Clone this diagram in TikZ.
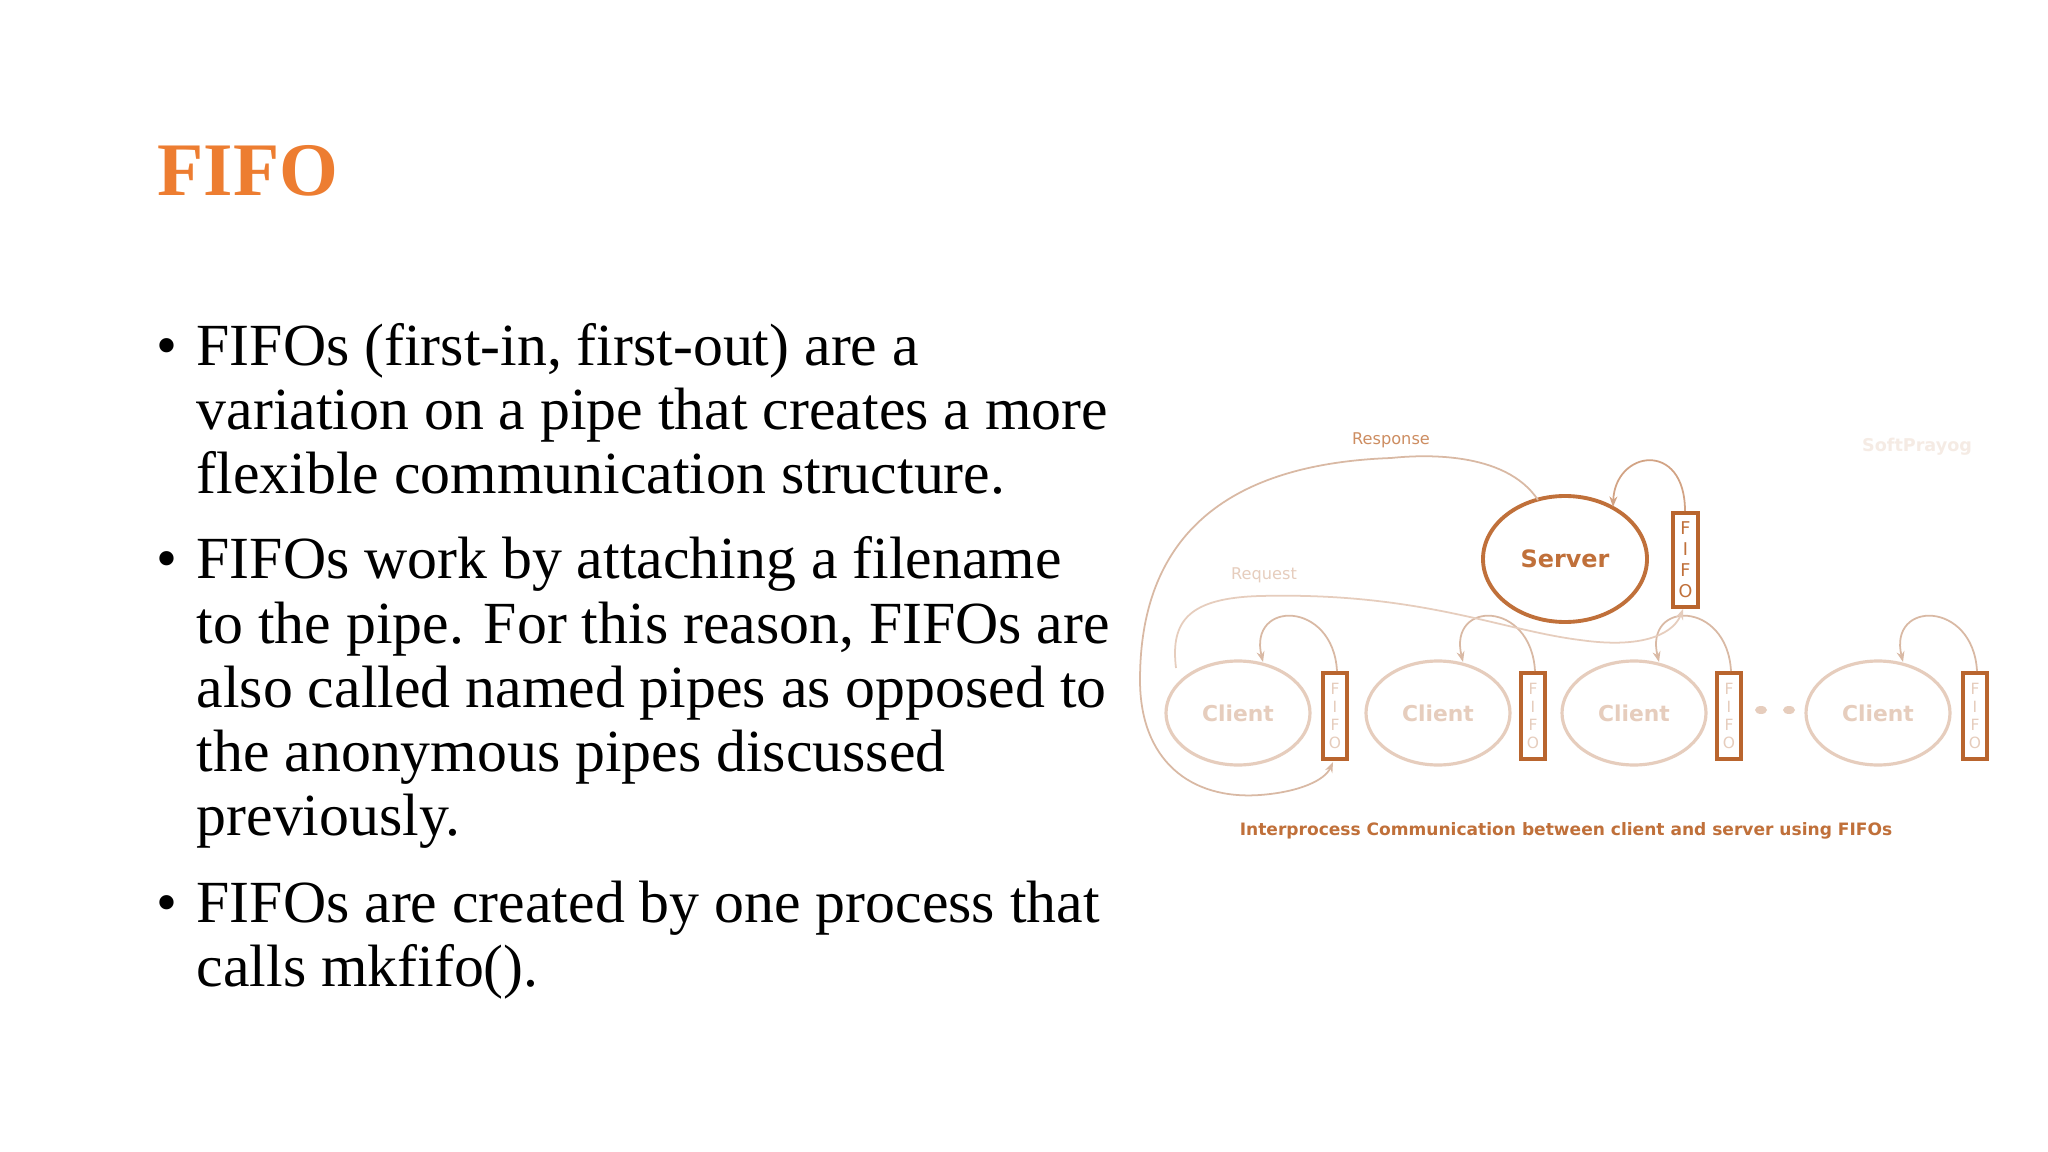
\documentclass[tikz,border=0pt]{standalone}
\usepackage{fontspec}
\setmainfont{Liberation Serif}
\newfontfamily\djv{DejaVu Sans}
\usetikzlibrary{arrows.meta}
\definecolor{ttl}{HTML}{ED7D31}
\definecolor{srv}{HTML}{C0703A}
\definecolor{cli}{HTML}{E6CDBD}
\definecolor{fbox}{HTML}{B9652E}
\definecolor{lin}{HTML}{D9B9A4}
\begin{document}
\begin{tikzpicture}[x=0.01cm,y=-0.01cm,
  ln/.style={anchor=base west,inner sep=0,font=\fontsize{17}{20}\selectfont},
  bul/.style={anchor=base west,inner sep=0,font=\fontsize{17}{20}\selectfont},
  fl/.style={font=\djv\fontsize{4.4}{5.2}\selectfont,align=center,inner sep=0},
  arr/.style={-{Stealth[length=3pt]},line width=0.5pt}]
\useasboundingbox (0,0) rectangle (2048,1152);
\fill[white] (0,0) rectangle (2048,1152);
\node[anchor=base west,inner sep=0,text=ttl,font=\bfseries\fontsize{21.5}{24}\selectfont] (title) at (157,196) {FIFO};
\node[bul] (b1) at (156,366) {•};
\node[bul] (b2) at (156,579) {•};
\node[bul] (b3) at (156,922) {•};
\node[ln] (l1) at (196,366) {FIFOs (first-in, first-out) are a};
\node[ln] (l2) at (196,430) {variation on a pipe that creates a more};
\node[ln] (l3) at (196,494) {flexible communication structure.};
\node[ln] (l4) at (196,579) {FIFOs work by attaching a filename};
\node[ln] (l5) at (196,643) {to the pipe. For this reason, FIFOs are};
\node[ln] (l6) at (196,707) {also called named pipes as opposed to};
\node[ln] (l7) at (196,771) {the anonymous pipes discussed};
\node[ln] (l8) at (196,835) {previously.};
\node[ln] (l9) at (196,922) {FIFOs are created by one process that};
\node[ln] (l10) at (196,986) {calls mkfifo().};
% diagram
\draw[srv,line width=1.1pt] (1565,559) ellipse [x radius=82,y radius=63];
\node[text=srv,font=\djv\bfseries\fontsize{6.8}{8}\selectfont] (server) at (1565,559) {Server};
\draw[fbox,line width=1.1pt] (1673,513) rectangle (1698,607);
\node[fl,text=srv,font=\djv\fontsize{5}{6}\selectfont] (sf) at (1685.5,560) {F\\I\\F\\O};
\coordinate (sfb) at (1683,609);
\foreach \i/\cx/\fx in {1/1238/1323,2/1438/1521,3/1634/1717,4/1878/1963}{
  \draw[cli,line width=0.9pt] (\cx,713) ellipse [x radius=72,y radius=52];
  \node[text=cli,font=\djv\bfseries\fontsize{6.2}{7}\selectfont] (c\i) at (\cx,713) {Client};
  \draw[fbox,line width=1.1pt] (\fx,673) rectangle (\fx+24,759);
  \node[fl,text=cli] (f\i) at (\fx+12,716) {F\\I\\F\\O};
  \draw[lin,arr] (\fx+14,671) .. controls (\fx+10,600) and (\cx+10,600) .. (\cx+25,662);
}
\fill[cli] (1761,710) ellipse [x radius=6,y radius=4];
\fill[cli] (1789,710) ellipse [x radius=6,y radius=4];
\node[text=srv!80!white,font=\djv\fontsize{4.6}{5}\selectfont] (resp) at (1391,440) {Response};
\node[text=cli,font=\djv\fontsize{4.6}{5}\selectfont] (req) at (1264,575) {Request};
\node[text=cli!40!white,font=\djv\bfseries\fontsize{5}{6}\selectfont] (sp) at (1917,447) {SoftPrayog};
\node[text=srv,font=\djv\bfseries\fontsize{4.85}{5.5}\selectfont] (cap) at (1566,831) {Interprocess Communication between client and server using FIFOs};
\draw[lin!70!srv,arr] (1685,511) .. controls (1685,440) and (1615,450) .. (1613,507);
\coordinate (rs) at (1538,500);
\coordinate (re) at (1333,762);
\draw[lin,arr] (rs) .. controls (1505,450) and (1420,455) .. (1391,458)
  .. controls (1200,465) and (1140,560) .. (1140,680)
  .. controls (1140,760) and (1190,800) .. (1260,795)
  .. controls (1300,792) and (1325,780) .. (re);
\coordinate (qs) at (1176,668);
\draw[cli,arr] (qs) .. controls (1170,620) and (1190,598) .. (1260,596)
  .. controls (1420,592) and (1500,630) .. (1580,640)
  .. controls (1650,650) and (1675,630) .. (sfb);
\end{tikzpicture}
\end{document}
